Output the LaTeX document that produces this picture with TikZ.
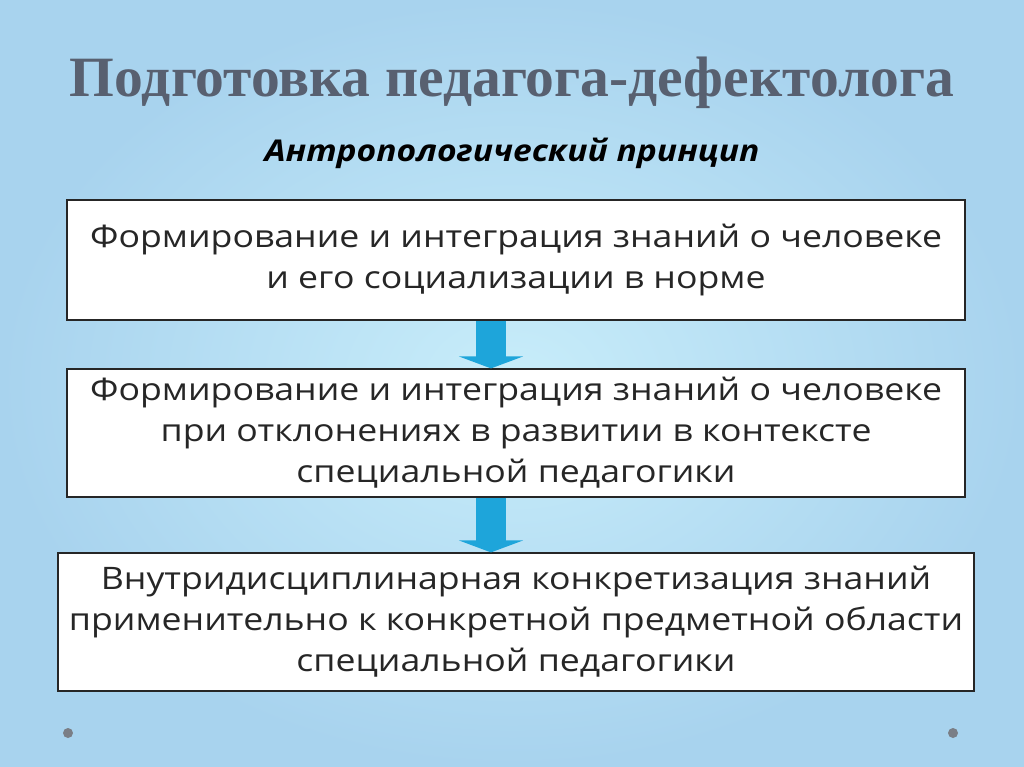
\documentclass[tikz,border=0pt]{standalone}
\usepackage{fontspec}
\setmainfont{Open Sans}[FakeStretch=1.15]
\newfontfamily\titlefont{Liberation Serif}[FakeStretch=1.01]
\newfontfamily\headfont{Open Sans}[FakeStretch=1.12]
\usetikzlibrary{arrows.meta,positioning,calc}
\definecolor{slideblue}{RGB}{200,237,250}
\definecolor{slideedge}{RGB}{168,211,238}
\definecolor{titlegray}{RGB}{88,96,112}
\definecolor{arrowblue}{RGB}{30,165,218}
\definecolor{dotgray}{RGB}{122,126,134}
\tikzset{
  stagebox/.style={draw=black!85, line width=1.2pt, fill=white, align=center,
    inner sep=0pt, font=\fontsize{31}{41}\selectfont, text=black!85},
  blockarrow/.style={draw=arrowblue, line width=30pt,
    -{Triangle[length=12pt,width=64pt]}}
}

\begin{document}
\begin{tikzpicture}[x=1pt,y=-1pt]
    % Background
    \useasboundingbox (0,0) rectangle (1024,767);
    \shade[inner color=slideblue, outer color=slideedge] (0,0) rectangle (1024,767);
    % Title
    \node[text=titlegray] (title) at (512,83) {\titlefont\bfseries\fontsize{57}{62}\selectfont Подготовка педагога-дефектолога};
    \node[font=\headfont\bfseries\itshape\fontsize{30}{34}\selectfont] (principle) at (512,153) {Антропологический принцип};
    % Stages
    \node[stagebox, minimum width=898pt, minimum height=120pt] (b1) at (516,260)
      {Формирование и интеграция знаний о человеке\\и его социализации в норме};
    \node[stagebox, minimum width=898pt, minimum height=128pt] (b2) at (516,433)
      {Формирование и интеграция знаний о человеке\\при отклонениях в развитии в контексте\\специальной педагогики};
    \node[stagebox, minimum width=916pt, minimum height=138pt] (b3) at (516,622)
      {Внутридисциплинарная конкретизация знаний\\применительно к конкретной предметной области\\специальной педагогики};
    % Arrows between stages
    \draw[blockarrow] ([xshift=-25pt]b1.south) -- ([xshift=-25pt]b2.north);
    \draw[blockarrow] ([xshift=-25pt]b2.south) -- ([xshift=-25pt]b3.north);
    % Corner dots
    \fill[dotgray] (68,733) circle (5);
    \fill[dotgray] (953,733) circle (5);
\end{tikzpicture}
\end{document}
